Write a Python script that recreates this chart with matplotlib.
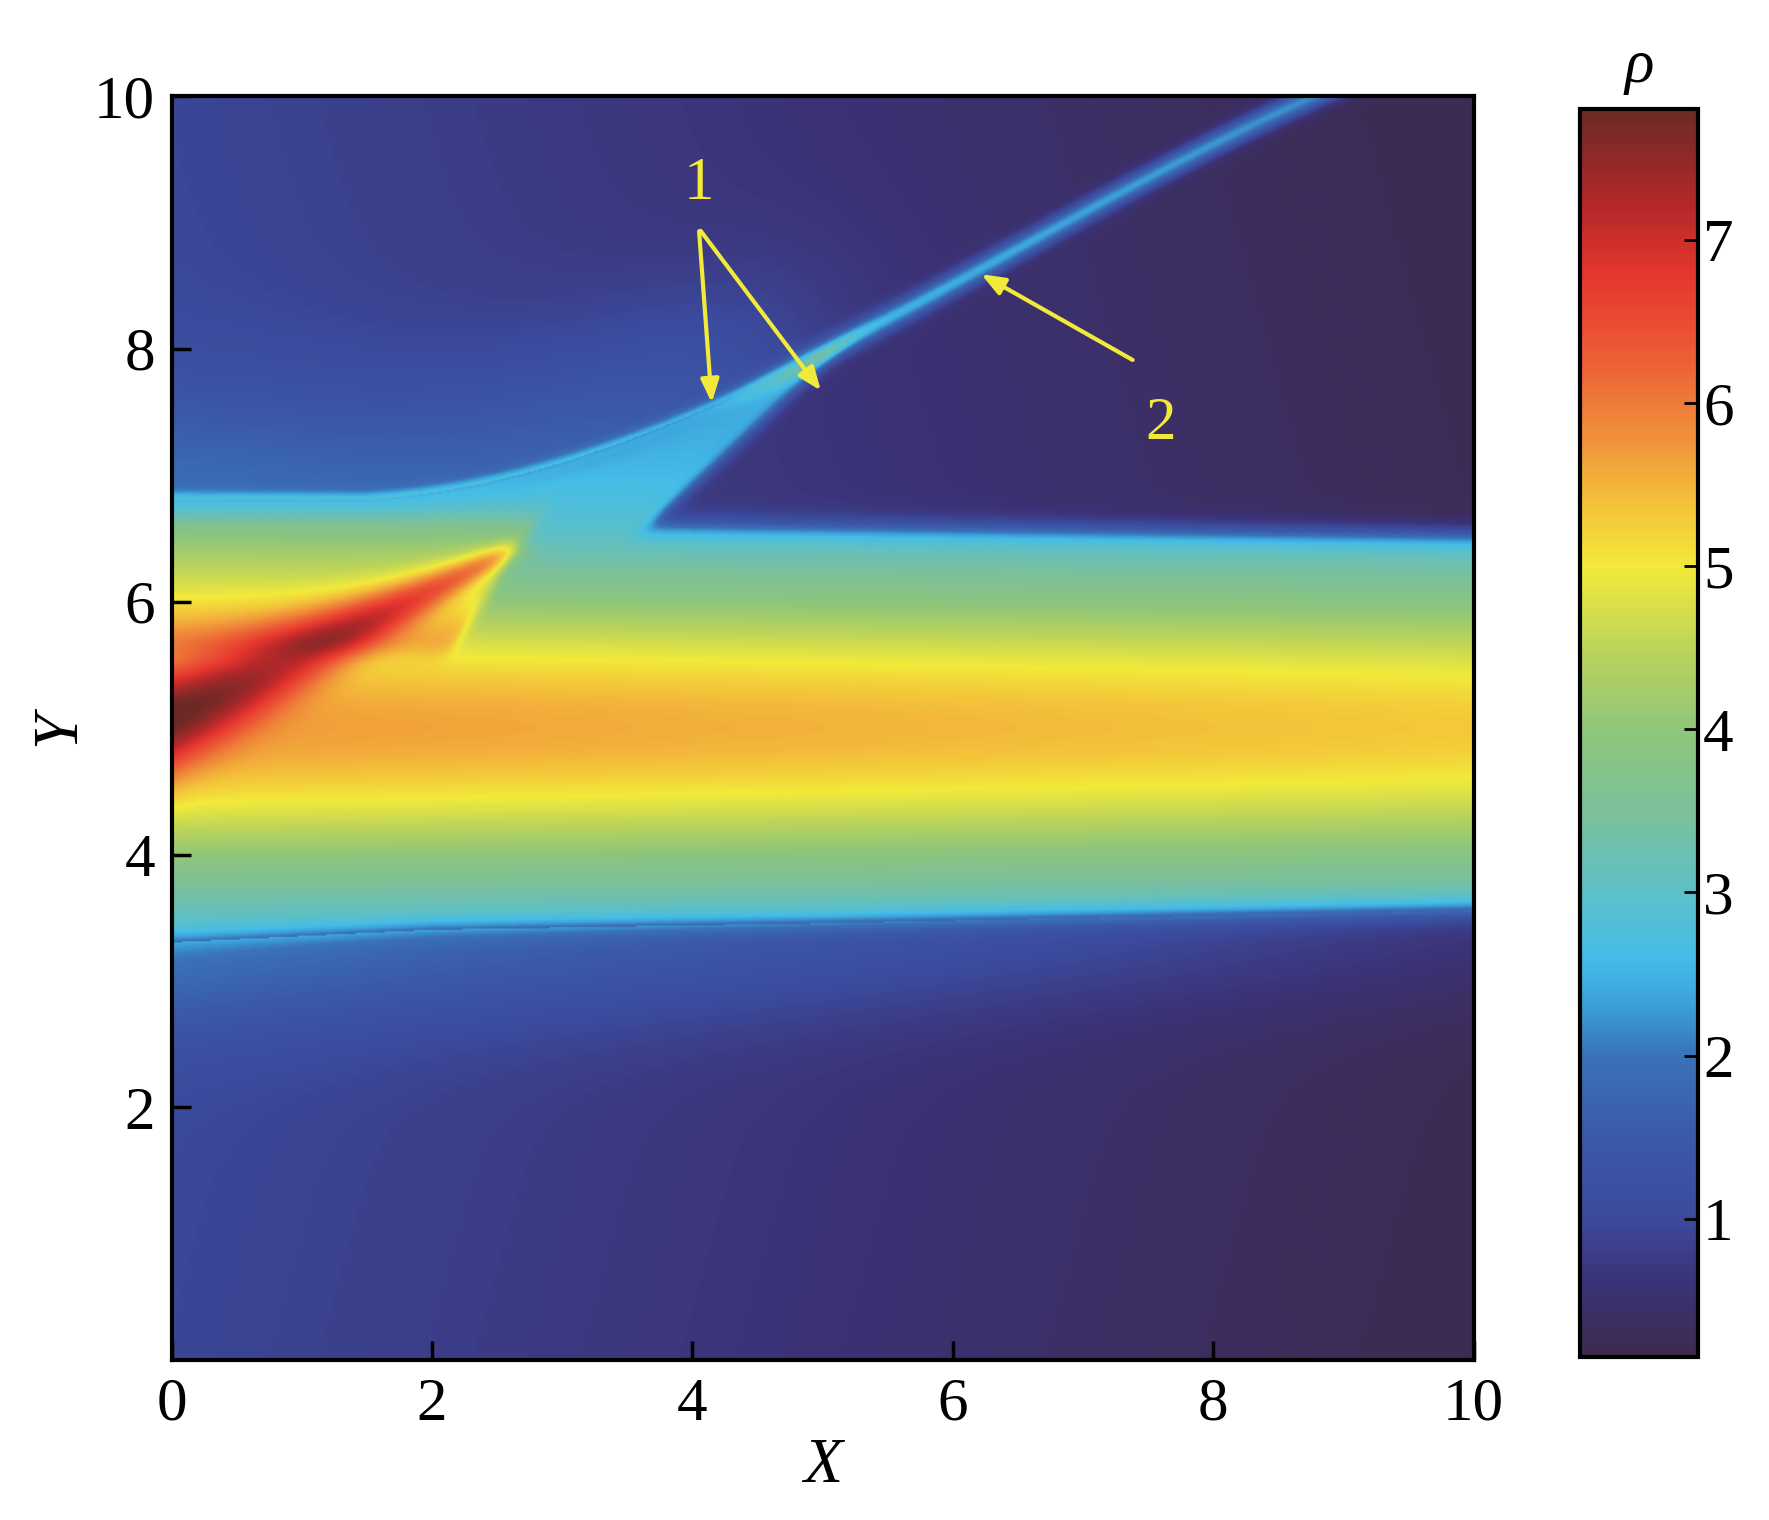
import numpy as np
import matplotlib.pyplot as plt
from matplotlib.colors import LinearSegmentedColormap

plt.rcParams['font.family'] = 'serif'
plt.rcParams['font.serif'] = ['Liberation Serif', 'Times New Roman', 'DejaVu Serif']
plt.rcParams['mathtext.fontset'] = 'stix'

# shock / band geometry
line2_x = [1.5, 2.0, 3.0, 4.0, 5.0, 6.0, 7.0, 8.0, 9.0, 10.0]
line2_y = [6.8, 6.87, 7.1, 7.45, 7.95, 8.55, 9.1, 9.6, 10.05, 10.5]
lo_x = [0.0, 2.0, 5.0, 10.0]
lo_y = [3.3, 3.4, 3.45, 3.55]
core_center = 5.0
core_peak = [5.7, 5.3]          # at x=0 and x=10
edge_val = 2.4
shock1 = [(3.7, 6.65), (5.0, 7.9)]
kink = [(2.2, 5.7), (2.75, 6.55)]
wedge = [(0.0, 5.1), (2.6, 6.4)]

# colour scale
cb_vals = [0.15, 0.6, 1.0, 1.5, 2.0, 2.3, 2.6, 3.0, 3.5, 4.0, 4.5, 5.0, 5.4, 5.8, 6.3, 6.8, 7.2, 7.8]
cb_cols = ['#3d2a4d', '#3b3378', '#3c4a9c', '#3b59a8', '#3a72b8', '#3ba0d8', '#45bde8', '#5cc0c8',
           '#7dc09a', '#8ec67a', '#bcd45a', '#f2ea3a', '#f4c03a', '#f0903a', '#ec5c36', '#e5352e',
           '#b8282a', '#6b2a26']
vmin, vmax = 0.15, 7.8
cmap = LinearSegmentedColormap.from_list(
    'rho', [((v - vmin) / (vmax - vmin), c) for v, c in zip(cb_vals, cb_cols)])


def S(d, w=0.06):
    return 0.5 * (1 + np.tanh(d / w))


x = np.linspace(0, 10, 900)
y = np.linspace(0, 10, 900)
X, Y = np.meshgrid(x, y)

# smooth shock curve, flat at y=6.8 left of x=1.5
coef = np.polyfit(line2_x, line2_y, 3)
L2 = np.where(X < line2_x[0], line2_y[0], np.polyval(coef, X))
L2 = np.maximum(L2, line2_y[0])
LO = np.interp(X, lo_x, lo_y)

bg = 1.05 - 0.075 * X - 0.02 * np.abs(Y - 5)
bg = np.clip(bg, 0.25, None)
# halos around the jet
bg += 1.0 * np.exp(-((Y - LO) / 0.7) ** 2) * (Y < LO) * (1 - 0.06 * X)
bg += 0.9 * np.exp(-((Y - L2) / 0.9) ** 2) * (Y > L2) * (1 - S(X - 4.5, 0.8))

amp = core_peak[0] + (core_peak[1] - core_peak[0]) * X / 10
prof = edge_val + (amp - edge_val) * np.exp(-((Y - core_center) / 1.2) ** 2)

(s1x0, s1y0), (s1x1, s1y1) = shock1
x1 = s1x0 + (Y - s1y0) * (s1x1 - s1x0) / (s1y1 - s1y0)
hi_r = 6.6 - 0.012 * (X - 3.7)
cut = S(Y - hi_r, 0.1) * S(X - x1, 0.08)
inside = S(Y - LO, 0.1) * S(L2 - Y, 0.08) * (1 - cut)

rho = bg * (1 - inside) + prof * inside

# streak along shock 2
rho += 1.9 * np.exp(-((Y - L2) / 0.1) ** 2) * S(X - 4.6, 0.4) * (1 - S(X - 9.4, 0.3))
rho += 0.6 * np.exp(-((Y - L2) / 0.06) ** 2) * (1 - S(X - 4.6, 0.4))
# cyan edge along shock 1
rho += 0.3 * np.exp(-((X - x1) / 0.1) ** 2) * S(Y - 6.6) * S(L2 - Y)

# yellow region left of the kink
(kx0, ky0), (kx1, ky1) = kink
xk = kx0 + (Y - ky0) * (kx1 - kx0) / (ky1 - ky0)
rho += 1.0 * S(xk - X) * S(Y - 5.6, 0.1) * S(L2 - Y) * S(6.65 - Y, 0.15)

# red wedge
(wx0, wy0), (wx1, wy1) = wedge
t = np.clip((X - wx0) / (wx1 - wx0), 0, 1)
cy = wy0 + t * (wy1 - wy0)
wid = 0.42 - 0.33 * t
rho += 2.2 * np.exp(-((Y - cy) / wid) ** 2) * (1 - S(X - wx1, 0.15)) * (1 - 0.3 * t)

rho = np.clip(rho, vmin, vmax)

fig = plt.figure(figsize=(17.69, 15.2), dpi=100)
ax = fig.add_axes([0.097, 0.105, 0.736, 0.832])
im = ax.imshow(rho, extent=[0, 10, 0, 10], origin='lower', cmap=cmap,
               vmin=vmin, vmax=vmax, aspect='auto', interpolation='bilinear')
ax.set_xlim(0, 10)
ax.set_ylim(0, 10)
ax.set_xticks([0, 2, 4, 6, 8, 10])
ax.set_yticks([2, 4, 6, 8, 10])
ax.tick_params(direction='in', length=14, width=2.5, labelsize=44, pad=12)
for s in ax.spines.values():
    s.set_linewidth(3)
ax.set_xlabel('X', fontsize=46, style='italic')
ax.set_ylabel('Y', fontsize=46, style='italic')

yc = '#f2ea3a'
ax.text(4.05, 9.3, '1', color=yc, fontsize=44, ha='center', va='center')
for tx, ty in [(4.15, 7.55), (5.0, 7.65)]:
    ax.annotate('', xy=(tx, ty), xytext=(4.05, 8.95),
                arrowprops=dict(arrowstyle='-|>,head_length=1.4,head_width=0.55', color=yc, lw=3))
ax.text(7.6, 7.4, '2', color=yc, fontsize=44, ha='center', va='center')
ax.annotate('', xy=(6.2, 8.6), xytext=(7.4, 7.9),
            arrowprops=dict(arrowstyle='-|>,head_length=1.4,head_width=0.55', color=yc, lw=3))

cax = fig.add_axes([0.893, 0.107, 0.067, 0.821])
cb = fig.colorbar(im, cax=cax)
cb.set_ticks([1, 2, 3, 4, 5, 6, 7])
cax.tick_params(direction='in', length=10, width=2, labelsize=44)
cb.outline.set_linewidth(3)
cax.set_title('ρ', fontsize=44, style='italic', pad=20)

fig.savefig('out.png')
